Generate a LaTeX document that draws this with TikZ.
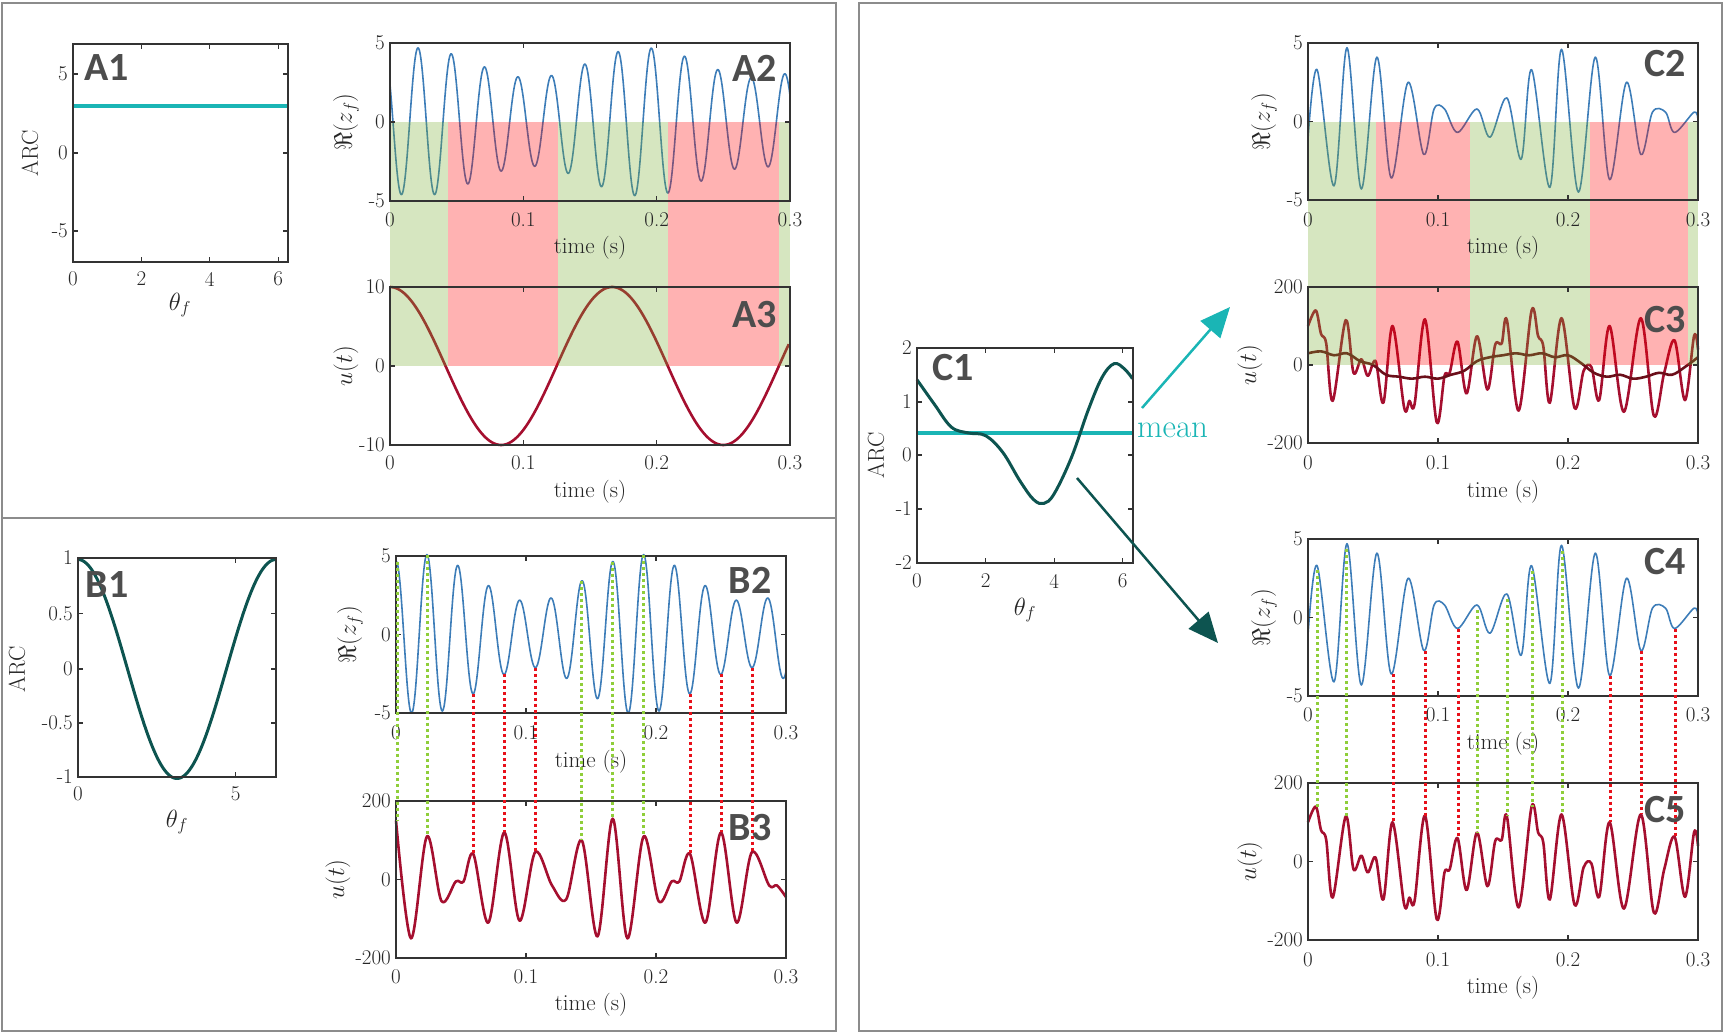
\documentclass[tikz,border=0pt]{standalone}
\usepackage{fontspec}
\newfontfamily\plf{Carlito}
\usetikzlibrary{arrows.meta}
\definecolor{axc}{HTML}{333333}
\definecolor{txc}{HTML}{262626}
\definecolor{plc}{HTML}{4D4D4D}
\definecolor{frc}{HTML}{8C8C8C}
\definecolor{zb}{HTML}{3D7DB8}
\definecolor{ur}{HTML}{A50F2F}
\definecolor{ud}{HTML}{6B0F1A}
\definecolor{teal}{HTML}{0D5450}
\definecolor{cyn}{HTML}{1AB5B5}
\definecolor{shg}{RGB}{119,172,48}
\definecolor{shr}{RGB}{255,0,0}
\definecolor{dg}{HTML}{8FCE3A}
\definecolor{dr}{HTML}{E8101A}
\tikzset{
 ax/.style={draw=axc, line width=1.1pt},
 tk/.style={font=\fontsize{21}{21}\selectfont, text=txc, inner sep=0pt},
 lab/.style={font=\fontsize{23}{23}\selectfont, text=txc},
 plab/.style={font=\plf\bfseries\fontsize{40}{40}\selectfont, text=plc, inner sep=0pt},
 frame/.style={draw=frc, line width=2.5pt},
 zline/.style={draw=zb, line width=1.6pt, line join=round},
 uline/.style={draw=ur, line width=2.6pt, line join=round},
 gsh/.style={fill=shg, fill opacity=0.3},
 rsh/.style={fill=shr, fill opacity=0.3},
 gdot/.style={draw=dg, line width=3pt, dash pattern=on 3pt off 3pt},
 rdot/.style={draw=dr, line width=3pt, dash pattern=on 3pt off 3pt},
}
\newcommand\xtk[4]{\foreach \p/\l in {#4}{\draw[ax] (\p,#1)--++(0,-5) (\p,#2)--++(0,5); \node[tk] at (\p,#3) {\l};}}
\newcommand\ytk[3]{\foreach \p/\l in {#3}{\draw[ax] (#1,\p)--++(5,0) (#2,\p)--++(-5,0); \node[tk,anchor=east] at ({#1-5},\p) {\l};}}
\def\Czlist{(0,-1.1)(0.007,3.3)(0.02,-4.1)(0.03,4.7)(0.041,-4.3)(0.053,4.1)(0.064,-3.6)(0.077,2.5)(0.089,-2.1)(0.097,0.8)(0.105,0.8)(0.115,-0.7)(0.13,0.8)(0.14,-1.0)(0.153,1.5)(0.164,-2.4)(0.172,3.3)(0.186,-4.2)(0.195,4.6)(0.208,-4.5)(0.221,4.1)(0.232,-3.7)(0.245,2.5)(0.256,-2.1)(0.265,0.6)(0.275,0.6)(0.282,-0.7)(0.297,0.6)(0.3,0.1)}
\def\Culist{(0,100)(0.006,140)(0.01,80)(0.014,55)(0.019,-92)(0.029,115)(0.035,-20)(0.041,15)(0.046,-28)(0.052,10)(0.058,-97)(0.065,100)(0.074,-110)(0.078,-92)(0.082,-100)(0.09,117)(0.099,-147)(0.105,-28)(0.109,-20)(0.115,60)(0.122,-73)(0.13,74)(0.138,-63)(0.144,52)(0.149,55)(0.153,115)(0.162,-117)(0.172,140)(0.177,74)(0.181,48)(0.186,-97)(0.195,120)(0.205,-110)(0.212,-15)(0.218,-5)(0.224,-90)(0.232,100)(0.243,-120)(0.256,120)(0.266,-130)(0.274,-20)(0.282,63)(0.29,-90)(0.297,75)(0.3,40)}
\def\Cdlist{(0,30)(0.01,35)(0.02,25)(0.03,30)(0.04,10)(0.05,0)(0.06,-25)(0.07,-30)(0.08,-35)(0.09,-30)(0.1,-35)(0.11,-25)(0.12,-15)(0.13,10)(0.14,20)(0.15,25)(0.16,30)(0.17,25)(0.18,30)(0.19,20)(0.2,25)(0.21,5)(0.22,-20)(0.23,-30)(0.24,-25)(0.25,-35)(0.26,-30)(0.27,-20)(0.28,-25)(0.29,-5)(0.3,20)}
\def\Bulist{(0,150)(0.0115,-150)(0.0238,110)(0.035,-55)(0.046,-5)(0.052,-5)(0.0595,65)(0.071,-110)(0.0833,120)(0.095,-105)(0.1071,70)(0.12,-15)(0.131,-50)(0.1429,100)(0.155,-145)(0.1667,155)(0.178,-150)(0.1905,110)(0.202,-55)(0.212,-5)(0.218,-5)(0.2262,65)(0.238,-110)(0.25,120)(0.262,-110)(0.2738,70)(0.287,-15)(0.293,-15)(0.3,-45)}
\begin{document}
\begin{tikzpicture}[x=1pt,y=-1pt]
\useasboundingbox (0,0) rectangle (1725,1036);
% frames
\draw[frame] (2,3) rectangle (836,518);
\draw[frame] (2,518) rectangle (836,1031);
\draw[frame] (859,3) rectangle (1722,1031);

% ---------- A1
\draw[cyn, line width=3.5pt] (73,106) -- (288,106);
\draw[ax] (73,44) rectangle (288,262);
\xtk{262}{44}{279}{73/0,141.4/2,209.8/4,278.2/6}
\ytk{73}{288}{74/5,153/0,231/-5}
\node[lab,rotate=90] at (30,153) {ARC};
\node[lab] at (180,305) {$\theta_f$};
\node[plab] at (107,68) {A1};

% ---------- A2 / A3
\begin{scope}[shift={(390,122)},xscale=1333.33,yscale=-15.8]
\draw[zline] plot[domain=0:0.3,samples=500,smooth] (\x,{(3.75+0.95*cos(2120*(\x-0.021)))*cos(14400*(\x-0.021))});
\end{scope}
\begin{scope}[shift={(390,366)},xscale=1333.33,yscale=-7.9]
\draw[uline] plot[domain=0:0.3,samples=200,smooth] (\x,{10*cos(2160*\x)});
\end{scope}
\fill[gsh] (390,122) rectangle (448,366);
\fill[rsh] (448,122) rectangle (558,366);
\fill[gsh] (558,122) rectangle (668,366);
\fill[rsh] (668,122) rectangle (779,366);
\fill[gsh] (779,122) rectangle (790,366);
\draw[ax] (390,43) rectangle (790,201);
\xtk{201}{43}{220}{390/0,523.3/0.1,656.7/0.2,790/0.3}
\ytk{390}{790}{43/5,122/0,201/-5}
\node[lab] at (590,248) {time (s)};
\node[lab,rotate=90] at (346,122) {$\Re(z_f)$};
\node[plab] at (755,68) {A2};
\draw[ax] (390,287) rectangle (790,445);
\xtk{445}{287}{463}{390/0,523.3/0.1,656.7/0.2,790/0.3}
\ytk{390}{790}{287/10,366/0,445/-10}
\node[lab] at (590,492) {time (s)};
\node[lab,rotate=90] at (346,366) {$u(t)$};
\node[plab] at (755,315) {A3};

% ---------- B1
\begin{scope}[shift={(78,669)},xscale=31.51,yscale=-109.5]
\draw[teal,line width=3pt] plot[domain=0:6.2832,samples=120,smooth] (\x,{cos(\x r)});
\end{scope}
\draw[ax] (78,558) rectangle (276,777);
\xtk{777}{558}{794}{78/0,235.6/5}
\ytk{78}{276}{558/1,613.5/0.5,669/0,723/-0.5,777/-1}
\node[lab,rotate=90] at (17,669) {ARC};
\node[lab] at (177,822) {$\theta_f$};
\node[plab] at (107,585) {B1};

% ---------- B2 / B3
\begin{scope}[shift={(396,634.5)},xscale=1300,yscale=-15.7]
\draw[zline] plot[domain=0:0.3,samples=500,smooth] (\x,{(3.6+1.5*cos(2160*(\x-0.021)))*cos(15120*\x)});
\end{scope}
\begin{scope}[shift={(396,879.5)},xscale=1300,yscale=-0.3925]
\draw[uline] plot[smooth,tension=0.55] coordinates {\Bulist};
\end{scope}
\draw[ax] (396,556) rectangle (786,713);
\xtk{713}{556}{733}{396/0,526/0.1,656/0.2,786/0.3}
\ytk{396}{786}{556/5,634.5/0,713/-5}
\node[lab] at (591,762) {time (s)};
\node[lab,rotate=90] at (350,634.5) {$\Re(z_f)$};
\draw[ax] (396,801) rectangle (786,958);
\xtk{958}{801}{977}{396/0,526/0.1,656/0.2,786/0.3}
\ytk{396}{786}{801/200,879.5/0,958/-200}
\node[lab] at (591,1005) {time (s)};
\node[lab,rotate=90] at (338,879.5) {$u(t)$};
\foreach \xx/\ya/\yb in {397/561.5/820.6,427/554.6/836.3,581.7/580.8/840.2,612.7/561.5/818.7,643.7/555.4/836.3}
  \draw[gdot] (\xx,\ya) -- (\xx,\yb);
\foreach \xx/\ya/\yb in {473.4/693.8/854,504.3/674.4/832.4,535.3/667.6/852,690/693.8/854,721/674.4/832.4,752/667.6/852}
  \draw[rdot] (\xx,\ya) -- (\xx,\yb);
\node[plab] at (750,580) {B2};
\node[plab] at (750,828) {B3};

% ---------- C1
\draw[cyn, line width=3.5pt] (917,433) -- (1133,433);
\begin{scope}[shift={(917,455)},xscale=34.3,yscale=-53.75]
\draw[teal,line width=3pt] plot[smooth,tension=0.6] coordinates {(0,1.4)(0.5,0.95)(1,0.52)(1.5,0.41)(2,0.36)(2.5,0.05)(3,-0.48)(3.4,-0.83)(3.7,-0.9)(4,-0.72)(4.5,-0.05)(5,0.85)(5.4,1.45)(5.75,1.7)(6.05,1.6)(6.2832,1.42)};
\end{scope}
\draw[ax] (917,348) rectangle (1133,563);
\xtk{563}{348}{581}{917/0,985.6/2,1054.2/4,1122.8/6}
\ytk{917}{1133}{348/2,402/1,455/0,509/-1,563/-2}
\node[lab,rotate=90] at (876,455) {ARC};
\node[lab] at (1025,610) {$\theta_f$};
\node[font=\fontsize{33}{33}\selectfont, text=cyn, anchor=west, inner sep=0pt] (mean) at (1137,430) {mean};
\node[plab] at (953,368) {C1};
\coordinate (ca0) at (1142,408); \coordinate (ca1) at (1230,307);
\coordinate (ta0) at (1077,478); \coordinate (ta1) at (1218,643);
\draw[cyn,line width=2.5pt,-{Triangle[length=30pt,width=26pt]}] (ca0) -- (ca1);
\draw[teal,line width=2.5pt,-{Triangle[length=30pt,width=26pt]}] (ta0) -- (ta1);

% ---------- C2 / C3
\begin{scope}[shift={(1308,121.5)},xscale=1300,yscale=-15.7]
\draw[zline] plot[smooth,tension=0.55] coordinates {\Czlist};
\end{scope}
\begin{scope}[shift={(1308,365)},xscale=1300,yscale=-0.39]
\draw[uline] plot[smooth,tension=0.55] coordinates {\Culist};
\draw[draw=ud,line width=2.6pt] plot[smooth,tension=0.6] coordinates {\Cdlist};
\end{scope}
\fill[gsh] (1308,121.5) rectangle (1376,365);
\fill[rsh] (1376,121.5) rectangle (1470,365);
\fill[gsh] (1470,121.5) rectangle (1590,365);
\fill[rsh] (1590,121.5) rectangle (1688,365);
\fill[gsh] (1688,121.5) rectangle (1698,365);
\draw[ax] (1308,43) rectangle (1698,200);
\xtk{200}{43}{220}{1308/0,1438/0.1,1568/0.2,1698/0.3}
\ytk{1308}{1698}{43/5,121.5/0,200/-5}
\node[lab] at (1503,248) {time (s)};
\node[lab,rotate=90] at (1264,121.5) {$\Re(z_f)$};
\node[plab] at (1665,64) {C2};
\draw[ax] (1308,287) rectangle (1698,443);
\xtk{443}{287}{463}{1308/0,1438/0.1,1568/0.2,1698/0.3}
\ytk{1308}{1698}{287/200,365/0,443/-200}
\node[lab] at (1503,492) {time (s)};
\node[lab,rotate=90] at (1250,365) {$u(t)$};
\node[plab] at (1665,320) {C3};

% ---------- C4 / C5
\begin{scope}[shift={(1308,617.5)},xscale=1300,yscale=-15.7]
\draw[zline] plot[smooth,tension=0.55] coordinates {\Czlist};
\end{scope}
\begin{scope}[shift={(1308,861.5)},xscale=1300,yscale=-0.3925]
\draw[uline] plot[smooth,tension=0.55] coordinates {\Culist};
\end{scope}
\draw[ax] (1308,539) rectangle (1698,696);
\xtk{696}{539}{715}{1308/0,1438/0.1,1568/0.2,1698/0.3}
\ytk{1308}{1698}{539/5,617.5/0,696/-5}
\node[lab] at (1503,744) {time (s)};
\node[lab,rotate=90] at (1264,617.5) {$\Re(z_f)$};
\draw[ax] (1308,783) rectangle (1698,940);
\xtk{940}{783}{960}{1308/0,1438/0.1,1568/0.2,1698/0.3}
\ytk{1308}{1698}{783/200,861.5/0,940/-200}
\node[lab] at (1503,988) {time (s)};
\node[lab,rotate=90] at (1250,861.5) {$u(t)$};
\foreach \xx/\ya/\yb in {1317/570/806.5,1346/549/816.4,1477/610/832.5,1507/599/816.4,1532/571/806.5,1562/551/814.4}
  \draw[gdot] (\xx,\ya) -- (\xx,\yb);
\foreach \xx/\ya/\yb in {1393/674/822.3,1425/650.5/815.6,1458/628.5/838,1610/675.6/822.3,1641/650.5/814.4,1675/628.5/836.8}
  \draw[rdot] (\xx,\ya) -- (\xx,\yb);
\node[plab] at (1665,562) {C4};
\node[plab] at (1665,810) {C5};
\end{tikzpicture}
\end{document}
